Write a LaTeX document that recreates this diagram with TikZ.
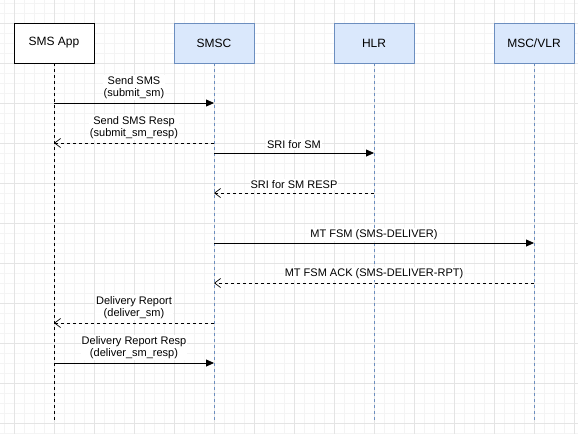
\documentclass[tikz,border=0pt]{standalone}
\usepackage{fontspec}
\setmainfont{Liberation Sans}
\usetikzlibrary{arrows.meta}
\definecolor{minorgrid}{HTML}{F4F4F4}
\definecolor{majorgrid}{HTML}{E4E4E4}
\definecolor{bluefill}{HTML}{DAE8FC}
\definecolor{blueline}{HTML}{6C8EBF}
\tikzset{
  actor/.style={draw=black, fill=white, minimum width=80pt, minimum height=40pt, inner sep=0pt, font=\fontsize{12}{14}\selectfont, line width=0.8pt},
  bluebox/.style={actor, draw=blueline, fill=bluefill},
  lifeline/.style={dash pattern=on 3pt off 3pt, line width=0.7pt},
  msg/.style={line width=0.8pt, -{Triangle[length=8pt,width=7pt]}},
  reply/.style={line width=0.8pt, dash pattern=on 3pt off 3pt, -{Straight Barb[length=6pt,width=9pt,line width=0.7pt]}},
  lbl/.style={fill=white, inner sep=1pt, align=center, font=\fontsize{11}{12.5}\selectfont}
}
\begin{document}
\begin{tikzpicture}[x=1pt,y=-1pt]
\useasboundingbox (0,0) rectangle (578,434);
% grid
\foreach \x in {4,14,...,574} \draw[minorgrid, line width=0.7pt] (\x,0) -- (\x,434);
\foreach \y in {3,13,...,433} \draw[minorgrid, line width=0.7pt] (0,\y) -- (578,\y);
\foreach \x in {14,54,...,574} \draw[majorgrid, line width=0.8pt] (\x,0) -- (\x,434);
\foreach \y in {23,63,...,423} \draw[majorgrid, line width=0.8pt] (0,\y) -- (578,\y);
% actors
\node[actor] (app) at (54,43) {SMS App};
\node[bluebox] (smsc) at (214,43) {SMSC};
\node[bluebox] (hlr) at (374,43) {HLR};
\node[bluebox] (msc) at (534,43) {MSC/VLR};
% lifeline ends
\coordinate (appEnd) at (54,420);
\coordinate (smscEnd) at (214,420);
\coordinate (hlrEnd) at (374,420);
\coordinate (mscEnd) at (534,420);
\draw[lifeline, black] (app.south) -- (appEnd);
\draw[lifeline, blueline] (smsc.south) -- (smscEnd);
\draw[lifeline, blueline] (hlr.south) -- (hlrEnd);
\draw[lifeline, blueline] (msc.south) -- (mscEnd);
% message points
\coordinate (a1) at (54,103);  \coordinate (s1) at (214,103);
\coordinate (a2) at (54,143);  \coordinate (s2) at (214,143);
\coordinate (s3) at (214,153); \coordinate (h3) at (374,153);
\coordinate (s4) at (214,193); \coordinate (h4) at (374,193);
\coordinate (s5) at (214,243); \coordinate (m5) at (534,243);
\coordinate (s6) at (214,283); \coordinate (m6) at (534,283);
\coordinate (a7) at (54,323);  \coordinate (s7) at (214,323);
\coordinate (a8) at (54,363);  \coordinate (s8) at (214,363);
% messages
\draw[msg] (a1) -- (s1);
\node[lbl] (l1) at (134,87.5) {Send SMS\\(submit\_sm)};
\draw[reply] (s2) -- (a2);
\node[lbl] (l2) at (134,127.5) {Send SMS Resp\\(submit\_sm\_resp)};
\draw[msg] (s3) -- (h3);
\node[lbl] (l3) at (294,144.5) {SRI for SM};
\draw[reply] (h4) -- (s4);
\node[lbl] (l4) at (294,184.5) {SRI for SM RESP};
\draw[msg] (s5) -- (m5);
\node[lbl] (l5) at (374,234.5) {MT FSM (SMS-DELIVER)};
\draw[reply] (m6) -- (s6);
\node[lbl] (l6) at (374,273.5) {MT FSM ACK (SMS-DELIVER-RPT)};
\draw[reply] (s7) -- (a7);
\node[lbl] (l7) at (134,307.5) {Delivery Report\\(deliver\_sm)};
\draw[msg] (a8) -- (s8);
\node[lbl] (l8) at (134,347.5) {Delivery Report Resp\\(deliver\_sm\_resp)};
\end{tikzpicture}
\end{document}
